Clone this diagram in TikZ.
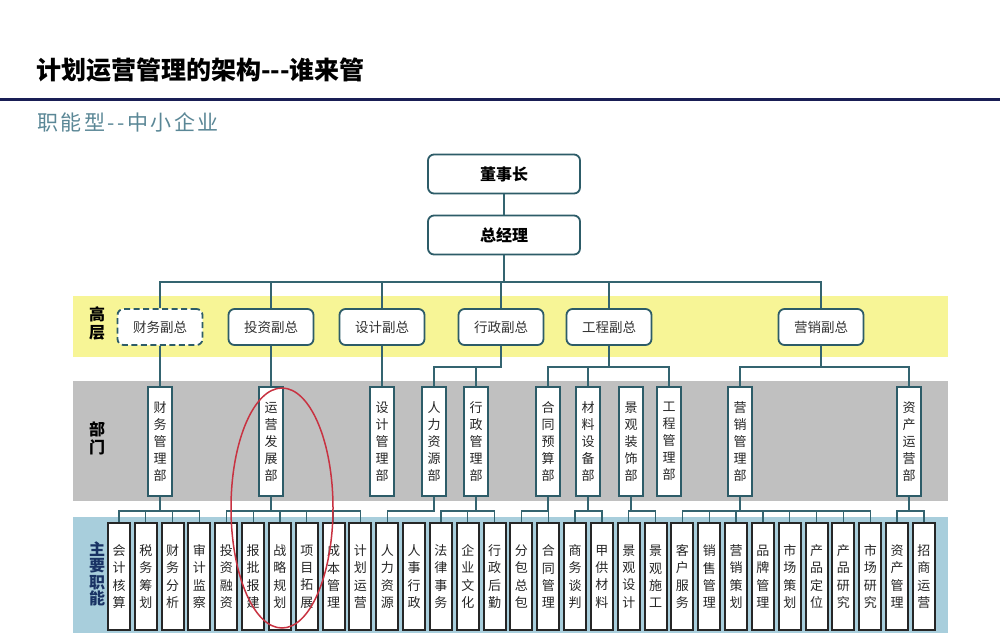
\documentclass[tikz,border=0pt]{standalone}
\usepackage{fontspec}
\newfontfamily\cjk{Noto Sans CJK SC}
\usetikzlibrary{calc}
\definecolor{bandY}{RGB}{247,245,150}
\definecolor{bandG}{RGB}{192,192,192}
\definecolor{bandB}{RGB}{168,206,220}
\definecolor{tealB}{RGB}{45,92,104}
\definecolor{lineC}{RGB}{52,100,112}
\definecolor{navyL}{RGB}{25,30,85}
\definecolor{subC}{RGB}{90,135,150}
\definecolor{redC}{RGB}{200,50,65}
\definecolor{lblB}{RGB}{25,50,100}
\tikzset{
  topbox/.style={draw=tealB, line width=1.8pt, rounded corners=6pt, fill=white,
    minimum width=152pt, minimum height=39pt, inner sep=0pt,
    font=\cjk\fontsize{16}{16}\selectfont\bfseries},
  vpbox/.style={draw=tealB, line width=1.8pt, rounded corners=6pt, fill=white,
    minimum width=85pt, minimum height=36pt, inner sep=0pt,
    font=\cjk\fontsize{13.5}{14}\selectfont, text=black!80},
  deptbox/.style={draw=tealB, line width=1.8pt, fill=white,
    minimum width=24pt, minimum height=109pt, inner sep=0pt, align=center,
    font=\cjk\fontsize{13}{17}\selectfont, text=black!85},
  fnbox/.style={draw=black!85, line width=2pt, fill=white,
    minimum width=22pt, minimum height=107pt, inner sep=0pt, align=center,
    font=\cjk\fontsize{13}{17.3}\selectfont, text=black!85},
  lvl/.style={align=center, inner sep=0pt, font=\cjk\fontsize{16}{18}\selectfont\bfseries},
  conn/.style={draw=lineC, line width=1.3pt},
}
\begin{document}
\begin{tikzpicture}[x=1pt,y=-1pt]
\useasboundingbox (0,0) rectangle (1000,633);
\fill[white] (0,0) rectangle (1000,633);
% title
\node[anchor=west, inner sep=0pt, font=\cjk\fontsize{25}{25}\selectfont\bfseries] (title) at (36,70) {计划运营管理的架构---谁来管};
\draw[navyL, line width=3pt] (0,99) -- (1000,99);
\node[anchor=west, inner sep=0pt, text=subC, font=\cjk\fontsize{21}{21}\selectfont\addfontfeature{LetterSpace=12}] (sub) at (37,122) {职能型--中小企业};
% bands
\fill[bandY] (73,296) rectangle (948,357);
\fill[bandG] (73,381) rectangle (948,501);
\fill[bandB] (73,517) rectangle (948,633);
% level labels
\node[lvl] (l1) at (97,323) {高\\层};
\node[lvl] (l2) at (97,438) {部\\门};
\node[lvl, text=lblB, font=\cjk\fontsize{16}{16.3}\selectfont\bfseries] (l3) at (97,574) {主\\要\\职\\能};
% top
\node[topbox] (ceo) at (504,174) {董事长};
\node[topbox] (gm) at (504,235) {总经理};
\coordinate (busc) at (504,282);
% VPs
\node[vpbox, dashed, dash pattern=on 6pt off 3.5pt] (vcw) at (160,327) {财务副总};
\node[vpbox] (vtz) at (271,327) {投资副总};
\node[vpbox] (vsj) at (382,327) {设计副总};
\node[vpbox] (vxz) at (501,327) {行政副总};
\node[vpbox] (vgc) at (609,327) {工程副总};
\node[vpbox] (vyx) at (821,327) {营销副总};
% departments
\node[deptbox] (dfin) at (160,441.5) {财\\务\\管\\理\\部};
\node[deptbox] (dops) at (271,441.5) {运\\营\\发\\展\\部};
\node[deptbox] (ddes) at (382,441.5) {设\\计\\管\\理\\部};
\node[deptbox] (dhr) at (434,441.5) {人\\力\\资\\源\\部};
\node[deptbox] (dadm) at (476,441.5) {行\\政\\管\\理\\部};
\node[deptbox] (dctr) at (548,441.5) {合\\同\\预\\算\\部};
\node[deptbox] (dmat) at (588,441.5) {材\\料\\设\\备\\部};
\node[deptbox] (dland) at (631,441.5) {景\\观\\装\\饰\\部};
\node[deptbox] (deng) at (669,441.5) {工\\程\\管\\理\\部};
\node[deptbox] (dmkt) at (740,441.5) {营\\销\\管\\理\\部};
\node[deptbox] (dast) at (909,441.5) {资\\产\\运\\营\\部};
% functions
\foreach \t [count=\i from 0] in {会\\计\\核\\算, 税\\务\\筹\\划, 财\\务\\分\\析, 审\\计\\监\\察,
  投\\资\\融\\资, 报\\批\\报\\建, 战\\略\\规\\划, 项\\目\\拓\\展, 成\\本\\管\\理, 计\\划\\运\\营,
  人\\力\\资\\源, 人\\事\\行\\政, 法\\律\\事\\务, 企\\业\\文\\化, 行\\政\\后\\勤,
  分\\包\\总\\包, 合\\同\\管\\理, 商\\务\\谈\\判, 甲\\供\\材\\料, 景\\观\\设\\计, 景\\观\\施\\工,
  客\\户\\服\\务, 销\\售\\管\\理, 营\\销\\策\\划, 品\\牌\\管\\理, 市\\场\\策\\划, 产\\品\\定\\位,
  产\\品\\研\\究, 市\\场\\研\\究, 资\\产\\管\\理, 招\\商\\运\\营}
  \node[fnbox] (f\i) at ({119+26.83*\i},576.5) {\t};
% connectors top
\draw[conn] (ceo) -- (gm);
\draw[conn] (gm) -- (busc);
\foreach \v in {vcw,vtz,vsj,vxz,vgc,vyx} \draw[conn] (\v.north) |- (busc);
% VP -> departments
\draw[conn] (vcw) -- (dfin);
\draw[conn] (vtz) -- (dops);
\draw[conn] (vsj) -- (ddes);
\foreach \d in {dhr,dadm} \draw[conn] (vxz.south) -- ++(0,21) -| (\d.north);
\foreach \d in {dctr,dmat,deng} \draw[conn] (vgc.south) -- ++(0,21) -| (\d.north);
\foreach \d in {dmkt,dast} \draw[conn] (vyx.south) -- ++(0,21) -| (\d.north);
% departments -> functions
\foreach \i in {0,...,3} \draw[conn] (dfin.south) -- ++(0,14) -| (f\i.north);
\foreach \i in {4,...,9} \draw[conn] (dops.south) -- ++(0,14) -| (f\i.north);
\draw[conn] (dhr.south) -- ++(0,14) -| (f10.north);
\foreach \i in {12,13,14} \draw[conn] (dadm.south) -- ++(0,14) -| (f\i.north);
\foreach \i in {15,16} \draw[conn] (dctr.south) -- ++(0,14) -| (f\i.north);
\foreach \i in {17,18} \draw[conn] (dmat.south) -- ++(0,14) -| (f\i.north);
\foreach \i in {19,20} \draw[conn] (dland.south) -- ++(0,14) -| (f\i.north);
\foreach \i in {21,...,28} \draw[conn] (dmkt.south) -- ++(0,14) -| (f\i.north);
\foreach \i in {29,30} \draw[conn] (dast.south) -- ++(0,14) -| (f\i.north);
% red ellipse
\draw[redC, line width=1.5pt] (282,508) ellipse [x radius=51pt, y radius=120pt];
\end{tikzpicture}
\end{document}
